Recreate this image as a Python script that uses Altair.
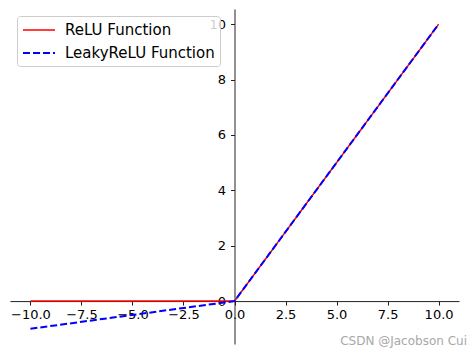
import altair as alt
import pandas as pd

xs = [-10, 0, 10]
relu = [0, 0, 10]
leaky = [-1, 0, 10]
series = ["ReLU Function", "LeakyReLU Function"]
x_ticks = [-10, -7.5, -5, -2.5, 0, 2.5, 5, 7.5, 10]
y_ticks = [0, 2, 4, 6, 8, 10]

rows = []
for s, ys in zip(series, [relu, leaky]):
    for x, y in zip(xs, ys):
        rows.append({"x": x, "y": y, "s": s})
df = pd.DataFrame(rows)

FONT = "DejaVu Sans"

xscale = alt.Scale(domain=[-11, 11], nice=False, zero=False)
yscale = alt.Scale(domain=[-1.55, 10.55], nice=False, zero=False)

W, H = 449, 335
y0_px = H * (10.55 - 0) / 12.1
x0_px = W * 11 / 22

axis_common = dict(title=None, grid=False, domainColor="#222", tickColor="#222",
                   labelColor="#000", labelFontSize=13, labelFont=FONT, tickSize=4,
                   labelOverlap=False, labelBound=False, labelFlush=False)

lines = alt.Chart(df).mark_line(clip=False).encode(
    x=alt.X("x:Q", scale=xscale,
            axis=alt.Axis(values=x_ticks, format=".1f", orient="bottom", labelPadding=3,
                          offset=-(H - y0_px), **axis_common)),
    y=alt.Y("y:Q", scale=yscale,
            axis=alt.Axis(values=y_ticks, format="d", orient="left", labelPadding=5,
                          offset=-x0_px, **axis_common)),
    color=alt.Color("s:N", scale=alt.Scale(domain=series, range=["#ff0000", "#0000ff"]),
                    title=None,
                    legend=alt.Legend(orient="none", legendX=7, legendY=7,
                                      symbolType="M-2,0L2,0", symbolSize=256,
                                      symbolStrokeWidth=2, labelFontSize=15,
                                      labelFont=FONT, labelColor="#000",
                                      fillColor="rgba(255,255,255,0.8)", strokeColor="#cccccc",
                                      cornerRadius=3, padding=5, rowPadding=6,
                                      symbolOffset=8, labelOffset=17)),
    strokeDash=alt.StrokeDash("s:N", scale=alt.Scale(domain=series, range=[[1, 0], [7, 3]]),
                              title=None, legend=alt.Legend(orient="none", legendX=7, legendY=7)),
    strokeWidth=alt.StrokeWidth("s:N", scale=alt.Scale(domain=series, range=[1.5, 2]), legend=None),
    order=alt.Order("o:Q"),
).transform_calculate(o="datum.s == 'ReLU Function' ? 0 : 1")

wm = alt.Chart(pd.DataFrame({"t": ["CSDN @Jacobson Cui"]})).mark_text(
    align="right", baseline="middle", fontSize=12, font=FONT, color="#a8a8a8"
).encode(text="t:N", x=alt.value(W + 8), y=alt.value(H - 3))

chart = alt.layer(lines, wm).properties(
    width=W, height=H,
    padding={"left": 10, "top": 9, "right": 15, "bottom": 9},
    autosize=alt.AutoSizeParams(type="none"),
).configure_view(stroke=None)

chart.save("out.html", embed_options={"renderer": "svg", "actions": False})
